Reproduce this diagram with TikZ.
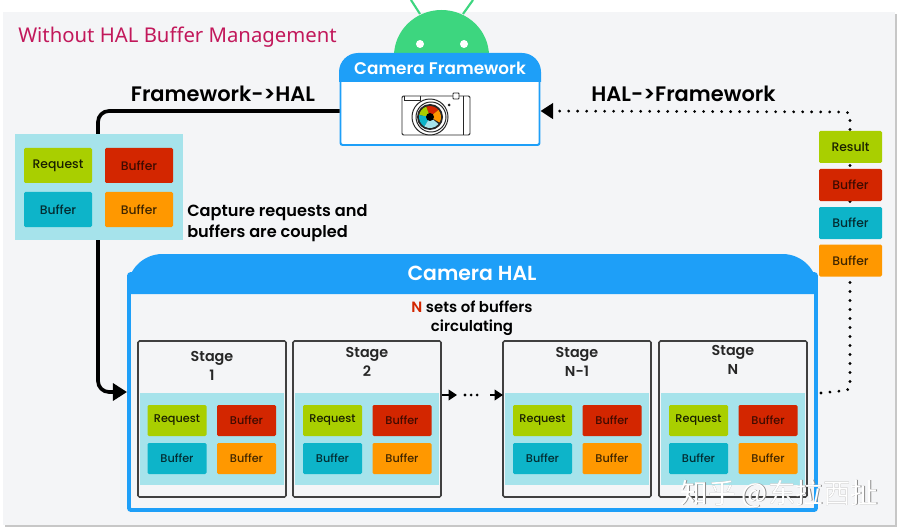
\documentclass[tikz,border=0pt]{standalone}
\usepackage{fontspec}
\setmainfont{Poppins Medium}[BoldFont={Poppins SemiBold}]
\newfontfamily\titlefont{Noto Sans}
\newfontfamily\cjkfont{Noto Sans CJK SC}
\usetikzlibrary{arrows.meta}

\definecolor{pagegray}{HTML}{F4F5F7}
\definecolor{halblue}{HTML}{1E9FF8}
\definecolor{panelcyan}{HTML}{A6E3EB}
\definecolor{chipgreen}{HTML}{A9CF00}
\definecolor{chipred}{HTML}{D32600}
\definecolor{chipteal}{HTML}{0DB4C9}
\definecolor{chiporange}{HTML}{FF9800}
\definecolor{droidgreen}{HTML}{3DD67F}
\definecolor{titlepink}{HTML}{C2185B}

\tikzset{
	chip/.style={rounded corners=1pt, inner sep=0pt, font=\fontsize{8.8}{10}\selectfont},
	smallchip/.style={chip, minimum width=59*0.025cm, minimum height=31*0.025cm, font=\fontsize{8}{10}\selectfont},
	bigchip/.style={chip, minimum width=68*0.025cm, minimum height=35*0.025cm},
	sidechip/.style={chip, minimum width=63*0.025cm, minimum height=32*0.025cm},
	greenfill/.style={fill=chipgreen, text=black!85!chipgreen},
	redfill/.style={fill=chipred, text=black!70!chipred},
	tealfill/.style={fill=chipteal, text=black!75!chipteal},
	orangefill/.style={fill=chiporange, text=black!75!chiporange},
	stagebox/.style={draw=black!75, line width=1.1pt, rounded corners=1pt, minimum width=148*0.025cm, minimum height=156*0.025cm, inner sep=0pt},
	stagepanel/.style={fill=panelcyan, minimum width=144*0.025cm, minimum height=92*0.025cm, inner sep=0pt},
	stagelabel/.style={align=center, font=\fontsize{10.2}{13.6}\selectfont\bfseries, text=black!85},
	bigarrow/.style={line width=2.6pt, -{Triangle[width=12pt,length=10pt]}},
	dotline/.style={line width=2.2pt, line cap=round, dash pattern=on 0pt off 6.4pt},
	dotarrow/.style={dotline, -{Triangle[width=11pt,length=9pt]}},
	smallarrow/.style={line width=1.6pt, -{Triangle[width=7.5pt,length=6pt]}}
}

\begin{document}
\begin{tikzpicture}[x=0.025cm, y=-0.025cm]
	\useasboundingbox (0, 0) rectangle (900, 531);
	\fill[white] (0, 0) rectangle (900, 531);
	\fill[black!22] (5, 14) rectangle (897, 527);
	\fill[pagegray] (3, 12) rectangle (895, 525);

	\node[anchor=west, text=titlepink, inner sep=0pt, font=\titlefont\fontsize{14.45}{18}\selectfont] (title) at (18, 37) {Without HAL Buffer Management};

	% android head
	\draw[droidgreen, line width=1.5pt] (420, 14) -- (411, 0);
	\draw[droidgreen, line width=1.5pt] (463, 14) -- (473, 0);
	\fill[droidgreen] (394, 56) arc[start angle=180, end angle=360, x radius=47.5, y radius=46];
	\fill[white] (420, 44) circle (4);
	\fill[white] (464, 44) circle (4);

	% framework box
	\node[draw=halblue, fill=white, line width=1.4pt, rounded corners=1.5pt, minimum width=199*0.025cm, minimum height=68*0.025cm, inner sep=0pt] (fwbody) at (440, 111) {};
	\fill[halblue] (339, 82) -- (339, 72) arc[start angle=180, end angle=270, radius=19] -- (522, 53) arc[start angle=270, end angle=360, radius=19] -- (541, 82) -- cycle;
	\node[text=white, font=\fontsize{12}{14}\selectfont\bfseries] (fwlabel) at (440, 68) {Camera Framework};

	% camera icon
	\draw[black!85, line width=0.7pt, rounded corners=1pt] (402, 96) rectangle (470, 135);
	\draw[black!85, line width=0.7pt] (404, 96) -- (404, 100) -- (420, 100) -- (420, 96);
	\draw[black!85, line width=0.7pt] (463, 96) -- (463, 135);
	\draw[black!85, line width=0.7pt, fill=white, rounded corners=0.5pt] (453, 93) rectangle (459, 99);
	\fill[black!85] (449, 105) circle (1.5);
	\draw[black!85, line width=0.7pt, fill=white] (430, 117) circle (18);
	\draw[black!85, line width=0.7pt] (431, 117) circle (15);
	\fill[black!85] (430, 117) circle (13);
	\fill[chipred] (430, 117) -- +(-110:11) arc[start angle=-110, end angle=-40, radius=11] -- cycle;
	\fill[chiporange] (430, 117) -- +(-40:11) arc[start angle=-40, end angle=30, radius=11] -- cycle;
	\fill[chipgreen] (430, 117) -- +(-170:11) arc[start angle=-170, end angle=-110, radius=11] -- cycle;
	\fill[chipteal] (430, 117) -- +(120:11) arc[start angle=120, end angle=190, radius=11] -- cycle;
	\fill[panelcyan] (430, 117) -- +(40:11) arc[start angle=40, end angle=120, radius=11] -- cycle;
	\fill[black] (430, 117) circle (4);

	% connectors
	\coordinate (fwturn) at (98, 111);
	\coordinate (halturn) at (98, 392);
	\node[inner sep=0pt, minimum width=687*0.025cm, minimum height=236*0.025cm, draw=halblue, line width=2.8pt, rounded corners=1.5pt] (halbody) at (472.5, 392) {};
	\draw[bigarrow, rounded corners=11*0.025cm] (fwbody.west) -- (fwturn) -- (halturn) -- (halbody.west);

	\coordinate (stageout) at (821, 393);
	\coordinate (rightlow) at (850, 390);
	\coordinate (righttop) at (850, 112);
	\draw[dotarrow, rounded corners=4*0.025cm] (stageout) -- (rightlow) -- (righttop) -- (fwbody.east);

	\node[font=\fontsize{14.9}{15}\selectfont\bfseries, inner sep=0pt] (downlabel) at (223, 94) {Framework->HAL};
	\node[font=\fontsize{14.9}{15}\selectfont\bfseries, inner sep=0pt] (uplabel) at (683.5, 94) {HAL->Framework};

	% coupled requests
	\node[fill=panelcyan, minimum width=168*0.025cm, minimum height=106*0.025cm, inner sep=0pt] (coupled) at (99, 187) {};
	\node[bigchip, greenfill] (coupledreq) at (58, 165.5) {Request};
	\node[bigchip, redfill] (coupledred) at (139, 165.5) {Buffer};
	\node[bigchip, tealfill] (coupledteal) at (58, 209.5) {Buffer};
	\node[bigchip, orangefill] (coupledorange) at (139, 209.5) {Buffer};
	\node[anchor=west, align=left, inner sep=0pt, font=\fontsize{11.5}{14.9}\selectfont\bfseries] (coupledlabel) at (187, 223.5) {Capture requests and\\buffers are coupled};

	% result chips
	\node[sidechip, greenfill] (sideresult) at (850.5, 147) {Result};
	\node[sidechip, redfill] (sidered) at (850.5, 185) {Buffer};
	\node[sidechip, tealfill] (sideteal) at (850.5, 223) {Buffer};
	\node[sidechip, orangefill] (sideorange) at (850.5, 260.5) {Buffer};

	% camera hal
	\fill[halblue] (127.5, 294) -- (127.5, 289) arc[start angle=180, end angle=270, radius=35] -- (782.5, 254) arc[start angle=270, end angle=360, radius=35] -- (817.5, 294) -- cycle;
	\node[text=white, font=\fontsize{14.5}{16}\selectfont\bfseries] (hallabel) at (472, 273) {Camera HAL};
	\node[align=center, inner sep=0pt, font=\fontsize{10.6}{13.6}\selectfont\bfseries] (setslabel) at (472, 318) {\textcolor{chipred}{N} sets of buffers\\circulating};

	% stage 1
	\node[stagebox] (stagea) at (212, 419) {};
	\node[stagepanel] (panela) at (212, 439) {};
	\node[stagelabel] (labela) at (212, 366) {Stage\\1};
	\node[smallchip, greenfill] (reqa) at (177, 420.5) {Request};
	\node[smallchip, redfill] (reda) at (246.5, 420.5) {Buffer};
	\node[smallchip, tealfill] (teala) at (177, 458.5) {Buffer};
	\node[smallchip, orangefill] (orangea) at (246.5, 458.5) {Buffer};

	% stage 2
	\node[stagebox] (stageb) at (367, 419) {};
	\node[stagepanel] (panelb) at (367, 439) {};
	\node[stagelabel] (labelb) at (367, 361.5) {Stage\\2};
	\node[smallchip, greenfill] (reqb) at (332.5, 420.5) {Request};
	\node[smallchip, redfill] (redb) at (402, 420.5) {Buffer};
	\node[smallchip, tealfill] (tealb) at (332.5, 458.5) {Buffer};
	\node[smallchip, orangefill] (orangeb) at (402, 458.5) {Buffer};

	% stage n-1
	\node[stagebox] (stagec) at (577, 419) {};
	\node[stagepanel] (panelc) at (577, 439) {};
	\node[stagelabel] (labelc) at (577, 361.5) {Stage\\N-1};
	\node[smallchip, greenfill] (reqc) at (542.5, 420.5) {Request};
	\node[smallchip, redfill] (redc) at (612, 420.5) {Buffer};
	\node[smallchip, tealfill] (tealc) at (542.5, 458.5) {Buffer};
	\node[smallchip, orangefill] (orangec) at (612, 458.5) {Buffer};

	% stage n
	\node[stagebox] (staged) at (733, 419) {};
	\node[stagepanel] (paneld) at (733, 439) {};
	\node[stagelabel] (labeld) at (733, 359.5) {Stage\\N};
	\node[smallchip, greenfill] (reqd) at (698.5, 420.5) {Request};
	\node[smallchip, redfill] (redd) at (768, 420.5) {Buffer};
	\node[smallchip, tealfill] (teald) at (698.5, 458.5) {Buffer};
	\node[smallchip, orangefill] (oranged) at (768, 458.5) {Buffer};

	% between the stages
	\coordinate (gapleft) at (457, 395);
	\coordinate (gapright) at (490, 395);
	\coordinate (dotsleft) at (465, 395);
	\coordinate (dotsright) at (482, 395);
	\draw[smallarrow] (442, 395) -- (gapleft);
	\draw[smallarrow] (gapright) -- (503, 395);
	\draw[dotline, dash pattern=on 0pt off 4.3pt] (dotsleft) -- (dotsright);

	% watermark
	\node[text=black!45, font=\cjkfont\fontsize{19.6}{21}\selectfont, inner sep=0pt] (markshadow) at (780, 494.5) {知乎 @东拉西扯};
	\node[text=white, font=\cjkfont\fontsize{19.6}{21}\selectfont, inner sep=0pt] (mark) at (779.5, 494) {知乎 @东拉西扯};
\end{tikzpicture}
\end{document}
